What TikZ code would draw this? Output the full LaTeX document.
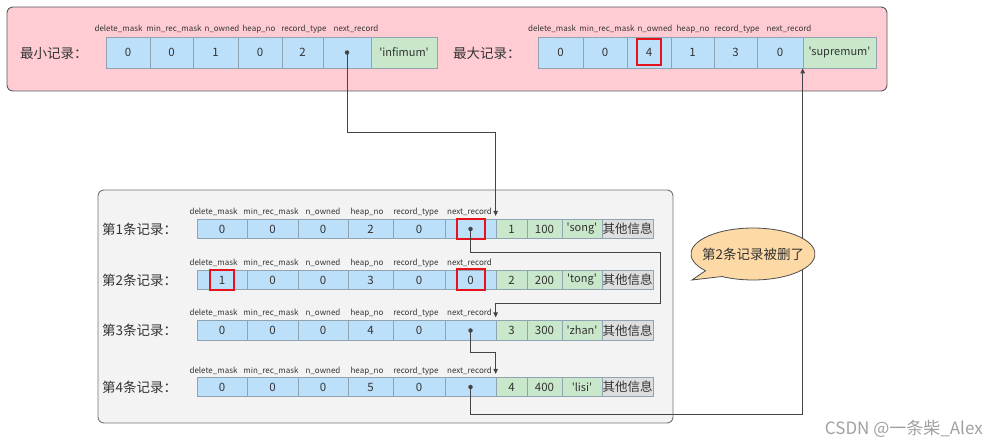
\documentclass[tikz,border=0pt]{standalone}
\usepackage{fontspec}
\setmainfont{Noto Sans CJK SC}
\newfontfamily\dfont{Noto Sans CJK SC}
\usetikzlibrary{arrows.meta,calc}
\definecolor{pinkbg}{HTML}{FFCCD4}
\definecolor{cellblue}{HTML}{BCE0FA}
\definecolor{cellgreen}{HTML}{C9E7CA}
\definecolor{cellgray}{HTML}{DEDEDE}
\definecolor{cellline}{HTML}{8FA3B0}
\definecolor{boxgray}{HTML}{F3F3F3}
\definecolor{linegray}{HTML}{444444}
\definecolor{redmark}{HTML}{E5141C}
\definecolor{txt}{HTML}{333333}
\definecolor{bubblefill}{HTML}{FDD9A6}
\definecolor{wmark}{HTML}{A0A0A0}
\newcommand\fs[1]{\dfont\fontsize{#1}{#1}\selectfont}
\tikzset{
  cell/.style={draw=cellline, line width=0.7pt, inner sep=0pt, text=txt, font=\fs{11.5}},
  collab/.style={text=txt, font=\fs{8}, inner sep=0pt},
  rowlab/.style={text=txt, font=\fs{13.5}, anchor=west, inner sep=0pt},
  redbox/.style={draw=redmark, line width=2pt, inner sep=0pt},
  conn/.style={draw=linegray, line width=0.9pt, -{Triangle[length=5pt,width=4.5pt]}},
  dotc/.style={circle, fill=linegray, inner sep=0pt, minimum size=4.5pt},
  container/.style={rounded corners=6pt, line width=0.9pt, inner sep=0pt},
}
% #1 name, #2 y, #3 height, #4 boundaries, #5 text/colour list
\newcommand\cellrow[5]{%
  \foreach \t/\c [count=\i from 0] in {#5} {
    \pgfmathsetmacro\xa{{#4}[\i]}
    \pgfmathsetmacro\xb{{#4}[\i+1]}
    \node[cell, fill=\c, minimum width={(\xb-\xa)*1pt}, minimum height=#3pt] (#1-\i) at ({(\xa+\xb)/2},#2) {\t};
  }}
% #1 name, #2 y, #3 list macro
\newcommand\labrow[3]{%
  \foreach \x/\t [count=\i] in #3 {
    \node[collab] (#1-l\i) at (\x,#2) {\t};
  }}
\def\tminlabs{118.5/delete\_mask,174/min\_rec\_mask,222/n\_owned,259/heap\_no,304/record\_type,356/next\_record}
\def\tmaxlabs{552/delete\_mask,607/min\_rec\_mask,655/n\_owned,693/heap\_no,737/record\_type,789/next\_record}
\def\midlabs{213.5/delete\_mask,271/min\_rec\_mask,323/n\_owned,367/heap\_no,416/record\_type,469.5/next\_record}
\def\midb{197,247,298,348,393,445,496,527,562,602,653}
\begin{document}
\begin{tikzpicture}[x=1pt,y=-1pt]
\useasboundingbox (0,0) rectangle (999,446);
% containers
\node[container, draw=black!65, fill=pinkbg, minimum width=880pt, minimum height=84pt] (topbox) at (447,49) {};
\node[container, draw=black!55, fill=boxgray, minimum width=575pt, minimum height=233pt] (midbox) at (385.5,306.5) {};
% top records
\node[rowlab] (minlab) at (20,53) {最小记录：};
\node[rowlab] (maxlab) at (453,53) {最大记录：};
\labrow{tmin}{29}{\tminlabs}
\labrow{tmax}{29}{\tmaxlabs}
\cellrow{min}{52.5}{31}{106,150,193,238,282,323,371,437}{0/cellblue,0/cellblue,1/cellblue,0/cellblue,2/cellblue,/cellblue,{\fs{11}'infimum'}/cellgreen}
\cellrow{max}{52.5}{31}{538,583,627,671,714,757,803,876}{0/cellblue,0/cellblue,4/cellblue,1/cellblue,3/cellblue,0/cellblue,{\fs{11}'supremum'}/cellgreen}
\node[dotc] (dmin) at (min-5) {};
\node[redbox, minimum width=24pt, minimum height=26pt] (red0) at (max-2) {};
% middle records
\node[rowlab] (lab1) at (102,229) {第1条记录：};
\node[rowlab] (lab2) at (102,280) {第2条记录：};
\node[rowlab] (lab3) at (102,330.5) {第3条记录：};
\node[rowlab] (lab4) at (102,387) {第4条记录：};
\labrow{r1}{212}{\midlabs}
\labrow{r2}{263}{\midlabs}
\labrow{r3}{313}{\midlabs}
\labrow{r4}{371}{\midlabs}
\cellrow{r1}{229}{19.5}{\midb}{0/cellblue,0/cellblue,0/cellblue,2/cellblue,0/cellblue,/cellblue,1/cellgreen,100/cellgreen,{\fs{11}'song'}/cellgreen,{\fs{12.5}其他信息}/cellgray}
\cellrow{r2}{280}{19.5}{\midb}{1/cellblue,0/cellblue,0/cellblue,3/cellblue,0/cellblue,0/cellblue,2/cellgreen,200/cellgreen,{\fs{11}'tong'}/cellgreen,{\fs{12.5}其他信息}/cellgray}
\cellrow{r3}{330.5}{19.5}{\midb}{0/cellblue,0/cellblue,0/cellblue,4/cellblue,0/cellblue,/cellblue,3/cellgreen,300/cellgreen,{\fs{11}'zhan'}/cellgreen,{\fs{12.5}其他信息}/cellgray}
\cellrow{r4}{387}{19.5}{\midb}{0/cellblue,0/cellblue,0/cellblue,5/cellblue,0/cellblue,/cellblue,4/cellgreen,400/cellgreen,{\fs{11}'lisi'}/cellgreen,{\fs{12.5}其他信息}/cellgray}
\node[dotc] (d1) at (r1-5) {};
\node[dotc] (d3) at (r3-5) {};
\node[dotc] (d4) at (r4-5) {};
\node[redbox, minimum width=28pt, minimum height=20pt] (red1) at (r1-5) {};
\node[redbox, minimum width=24pt, minimum height=20pt] (red2) at (r2-0) {};
\node[redbox, minimum width=28pt, minimum height=21pt] (red3) at (r2-5) {};
% connectors
\draw[conn, shorten >=3pt] (dmin.center) -- ++(0,80) -| (r1-6.north west);
\draw[conn, shorten >=3pt] (d1.center) -- ++(0,23) -- ++(190,0) -- ++(0,51) -| (r3-6.north west);
\draw[conn, shorten >=3pt] (d3.center) -- ++(0,21.5) -| (r4-6.north west);
\draw[conn] (d4.center) -- ++(0,27) -| (max-6.south west);
% speech bubble
\draw[draw=black!70, line width=0.8pt, fill=bubblefill]
  (753,254) ++(120:62 and 26) -- (692,280) -- ($(753,254)+(140:62 and 26)$)
  arc[start angle=140, end angle=480, x radius=62, y radius=26] -- cycle;
\node[text=txt, font=\fs{13.5}, inner sep=0pt] (bubbletext) at (753,254) {第2条记录被删了};
% watermark
\node[text=wmark, font=\fs{17}, anchor=east, inner sep=0pt] (wm) at (983,429) {CSDN @一条柴\_Alex};
\end{tikzpicture}
\end{document}
